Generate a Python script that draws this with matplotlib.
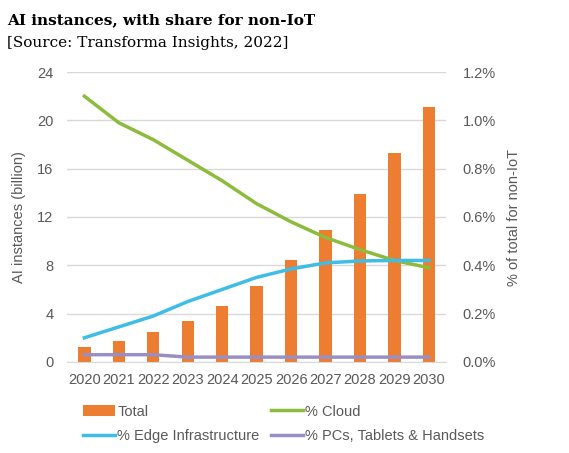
import matplotlib
matplotlib.use("Agg")
from matplotlib import pyplot as plt
from matplotlib.ticker import FuncFormatter

years = [2020, 2021, 2022, 2023, 2024, 2025, 2026, 2027, 2028, 2029, 2030]
total = [1.2, 1.75, 2.5, 3.4, 4.65, 6.3, 8.4, 10.95, 13.9, 17.3, 21.1]
cloud = [1.10, 0.99, 0.92, 0.835, 0.75, 0.655, 0.58, 0.515, 0.465, 0.42, 0.39]
edge = [0.10, 0.145, 0.19, 0.25, 0.30, 0.35, 0.385, 0.41, 0.418, 0.42, 0.42]
pcs = [0.03, 0.03, 0.03, 0.02, 0.02, 0.02, 0.02, 0.02, 0.02, 0.02, 0.02]

grey = "#595959"
plt.rcParams["font.family"] = ["Liberation Sans", "DejaVu Sans"]

fig = plt.figure(figsize=(5.69, 4.53), dpi=100)
ax = fig.add_axes([0.118, 0.201, 0.666, 0.640])
ax2 = ax.twinx()

x = list(range(len(years)))
bars = ax.bar(x, total, width=0.36, color="#ED7D31", label="Total", zorder=2)
l1, = ax2.plot(x, cloud, color="#8DBB3C", lw=2.5, label="% Cloud")
l2, = ax2.plot(x, edge, color="#3EBDE6", lw=2.5, label="% Edge Infrastructure")
l3, = ax2.plot(x, pcs, color="#9A8FC4", lw=2.5, label="% PCs, Tablets & Handsets")

ax.set_ylim(0, 24)
ax.set_yticks([0, 4, 8, 12, 16, 20, 24])
ax2.set_ylim(0, 1.2)
ax2.set_yticks([0, 0.2, 0.4, 0.6, 0.8, 1.0, 1.2])
ax2.yaxis.set_major_formatter(FuncFormatter(lambda v, p: "%.1f%%" % v))
ax.set_xlim(-0.5, len(years) - 0.5)
ax.set_xticks(x)
ax.set_xticklabels([str(y) for y in years])

ax.grid(axis="y", color="#D9D9D9", lw=1, zorder=0)
ax.set_axisbelow(True)
for a in (ax, ax2):
    for s in a.spines.values():
        s.set_visible(False)
    a.tick_params(length=0, colors=grey, labelsize=10.5)
ax.spines["bottom"].set_visible(True)
ax.spines["bottom"].set_color("#D9D9D9")
ax.tick_params(axis="x", pad=8)
ax.tick_params(axis="y", pad=10)
ax2.tick_params(axis="y", pad=12)

ax.set_ylabel("AI instances (billion)", color=grey, fontsize=10.5, labelpad=8)
ax2.set_ylabel("% of total for non-IoT", color=grey, fontsize=10.5, labelpad=8)

fig.text(0.012, 0.955, "AI instances, with share for non-IoT", fontsize=11,
         fontweight="bold", family="DejaVu Serif", color="black", va="center")
fig.text(0.012, 0.905, "[Source: Transforma Insights, 2022]", fontsize=11,
         family="DejaVu Serif", color="black", va="center")

fig.legend([bars, l2, l1, l3],
           ["Total", "% Edge Infrastructure", "% Cloud", "% PCs, Tablets & Handsets"],
           loc="lower left", bbox_to_anchor=(0.128, 0.0), ncol=2, frameon=False,
           fontsize=10.5, labelcolor=grey, handlelength=2.2, handletextpad=0.15,
           columnspacing=0.8, labelspacing=0.7, borderaxespad=0.3)

fig.savefig("out.png", dpi=100)
